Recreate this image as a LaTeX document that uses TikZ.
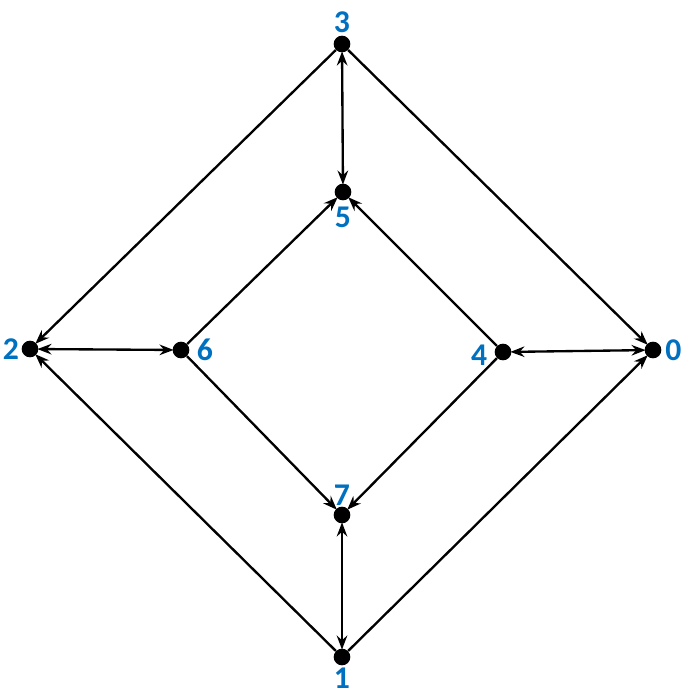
\documentclass[tikz,border=0pt]{standalone}
\usepackage{fontspec}
\setmainfont{Carlito}
\usetikzlibrary{arrows.meta}
\definecolor{lblue}{RGB}{0,112,192}
\begin{document}
\begin{tikzpicture}[x=0.03cm,y=-0.03cm,
  vtx/.style={circle,fill=black,inner sep=0pt,minimum size=0.5cm},
  lab/.style={text=lblue,font=\bfseries\fontsize{27}{29}\selectfont,inner sep=1pt},
  edge/.style={line width=2pt,-{Stealth[length=12pt,width=9pt,inset=4pt]},shorten >=-1pt},
  bi/.style={line width=2pt,{Stealth[length=12pt,width=9pt,inset=4pt]}-{Stealth[length=12pt,width=9pt,inset=4pt]},shorten >=-1pt,shorten <=-1pt}]
\useasboundingbox (0,0) rectangle (685,698);
\node[vtx] (n3) at (342,44) {};
\node[vtx] (n5) at (343,192) {};
\node[vtx] (n2) at (30,349) {};
\node[vtx] (n6) at (181,350) {};
\node[vtx] (n4) at (503,352) {};
\node[vtx] (n0) at (653,350) {};
\node[vtx] (n7) at (342,515) {};
\node[vtx] (n1) at (342,657) {};
\node[lab,above=1pt] (l3) at (n3.north) {3};
\node[lab,below=4pt] (l5) at (n5.south) {5};
\node[lab,left=1pt] (l2) at (n2.west) {2};
\node[lab,right=5pt] (l6) at (n6.east) {6};
\node[lab,left=5pt,yshift=-3pt] (l4) at (n4.west) {4};
\node[lab,right=2pt] (l0) at (n0.east) {0};
\node[lab,above=0pt] (l7) at (n7.north) {7};
\node[lab,below=1pt] (l1) at (n1.south) {1};
\draw[edge] (n3) -- (n2);
\draw[edge] (n3) -- (n0);
\draw[bi] (n3) -- (n5);
\draw[edge] (n6) -- (n5);
\draw[edge] (n4) -- (n5);
\draw[bi] (n2) -- (n6);
\draw[bi] (n4) -- (n0);
\draw[edge] (n6) -- (n7);
\draw[edge] (n4) -- (n7);
\draw[edge] (n1) -- (n2);
\draw[edge] (n1) -- (n0);
\draw[bi] (n1) -- (n7);
\end{tikzpicture}
\end{document}
